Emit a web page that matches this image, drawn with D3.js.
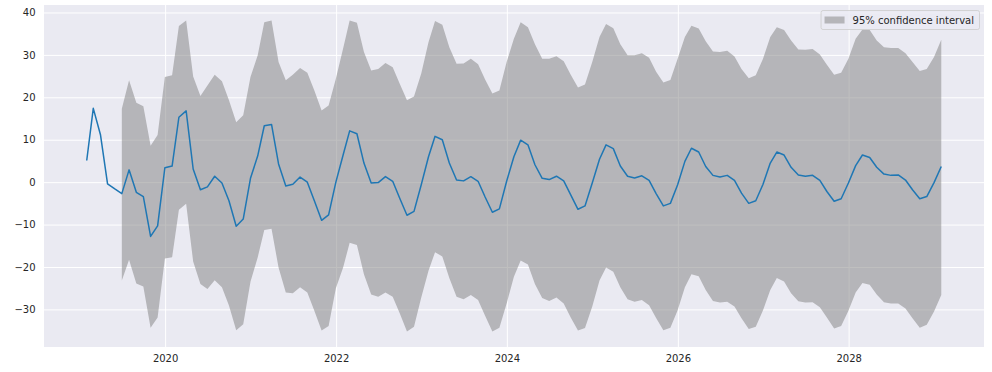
<!DOCTYPE html>
<html>
<head>
<meta charset="utf-8">
<script src="https://cdn.jsdelivr.net/npm/d3@7"></script>
<style>
  body { margin: 0; background: #fff; }
  svg { display: block; font-family: "DejaVu Sans", sans-serif; }
</style>
</head>
<body>
<svg id="chart"></svg>
<script>
const width = 992;
const height = 372;
const margin = {top: 5, right: 8, bottom: 25, left: 44};

// monthly series, dates are month ends
const firstMonth = [2019, 0];     // Jan 2019
const ciFirstMonth = [2019, 5];   // Jun 2019

const forecast = [
  5.1, 17.4, 11.1, -0.4, -1.6, -2.7, 2.9, -2.4, -3.4, -12.8, -10.3, 3.4,
  3.8, 15.3, 16.8, 3.1, -1.8, -1.1, 1.4, -0.2, -4.4, -10.4, -8.7, 0.9,
  6.2, 13.3, 13.6, 4.3, -0.9, -0.5, 1.2, 0.0, -4.4, -9.0, -7.7, 0.0,
  6.4, 12.1, 11.4, 4.5, -0.2, -0.1, 1.3, 0.2, -3.8, -7.8, -6.9, -0.6,
  6.0, 10.8, 10.0, 4.5, 0.5, 0.3, 1.3, 0.2, -3.5, -7.1, -6.3, 0.2,
  6.0, 9.9, 8.8, 4.1, 0.9, 0.6, 1.4, 0.3, -3.0, -6.4, -5.6, -0.2,
  5.4, 8.8, 7.9, 3.8, 1.4, 1.0, 1.5, 0.4, -2.7, -5.6, -5.0, -0.6,
  4.9, 8.0, 7.1, 3.7, 1.6, 1.2, 1.6, 0.4, -2.6, -5.0, -4.4, -0.5,
  4.5, 7.1, 6.4, 3.5, 1.7, 1.4, 1.6, 0.4, -2.2, -4.5, -3.9, -0.2,
  3.9, 6.4, 5.8, 3.5, 1.9, 1.6, 1.7, 0.5, -1.8, -3.9, -3.4, -0.1,
  3.7
];

const upper = [
  17.3, 24.0, 18.7, 17.9, 8.6, 11.1, 24.8,
  25.2, 36.8, 38.1, 24.9, 20.3, 22.8, 25.3, 23.8, 19.3, 14.1, 15.8, 24.8,
  29.9, 37.7, 38.1, 28.3, 24.0, 25.3, 26.9, 25.8, 21.6, 16.9, 18.1, 24.4,
  31.5, 38.1, 37.6, 30.7, 26.3, 26.7, 28.1, 27.1, 23.2, 19.3, 20.2, 25.6,
  33.0, 38.0, 37.1, 31.8, 27.9, 28.0, 29.1, 27.8, 24.2, 20.9, 21.6, 28.3,
  33.8, 37.7, 36.5, 32.5, 29.1, 29.1, 29.7, 28.5, 25.3, 22.3, 23.0, 28.3,
  34.2, 37.3, 36.3, 32.5, 29.9, 29.9, 30.4, 29.3, 26.0, 23.5, 24.1, 29.1,
  34.2, 36.9, 36.2, 33.2, 30.8, 30.7, 31.0, 29.6, 26.7, 24.5, 25.2, 29.1,
  34.2, 36.5, 35.9, 33.4, 31.3, 31.2, 31.4, 30.1, 27.7, 25.3, 25.8, 29.1,
  33.8, 36.0, 35.9, 33.4, 31.8, 31.6, 31.6, 30.4, 28.3, 26.2, 26.7, 29.5,
  33.6
];

const lower = [
  -23.2, -18.3, -23.9, -24.6, -34.3, -31.9, -18.0,
  -17.7, -6.5, -5.1, -18.7, -24.0, -25.2, -23.1, -24.8, -29.1, -34.9, -33.5, -23.5,
  -17.7, -11.3, -11.0, -20.1, -26.0, -26.2, -24.8, -26.0, -30.3, -35.0, -33.9, -25.0,
  -20.1, -14.3, -14.8, -21.7, -26.5, -27.0, -26.0, -27.0, -30.9, -35.2, -34.1, -27.2,
  -20.9, -16.5, -17.5, -22.6, -27.0, -27.6, -26.6, -27.8, -31.5, -35.2, -34.3, -28.6,
  -22.3, -18.5, -19.4, -24.0, -27.3, -28.0, -27.2, -28.6, -31.9, -35.0, -34.4, -29.3,
  -23.2, -20.1, -21.1, -24.8, -27.6, -28.2, -27.8, -29.0, -32.0, -34.9, -34.3, -30.2,
  -24.8, -21.7, -22.2, -25.4, -28.0, -28.4, -28.2, -29.3, -32.1, -34.6, -34.1, -30.2,
  -25.4, -22.6, -23.4, -26.2, -28.1, -28.4, -28.3, -29.5, -31.9, -34.5, -33.9, -30.3,
  -26.0, -23.8, -24.2, -26.5, -28.3, -28.6, -28.6, -29.8, -32.1, -34.3, -33.6, -30.5,
  -26.6
];

const yTicks = [-30, -20, -10, 0, 10, 20, 30, 40];
const xTickYears = [2020, 2022, 2024, 2026, 2028];
const legendLabel = "95% confidence interval";

// month-end date for the i-th month after a start month
function monthEnd(start, i) {
  const d = new Date(Date.UTC(start[0], start[1], 1));
  return d3.utcDay.offset(d3.utcMonth.offset(d, i + 1), -1);
}

const line = forecast.map((v, i) => ({date: monthEnd(firstMonth, i), value: v}));
const band = upper.map((v, i) => ({date: monthEnd(ciFirstMonth, i), hi: v, lo: lower[i]}));

const svg = d3.select("#chart")
  .attr("width", width)
  .attr("height", height);

const x0 = line[0].date, x1 = line[line.length - 1].date;
const xPad = (x1 - x0) * 0.05;
const xScale = d3.scaleUtc()
  .domain([new Date(+x0 - xPad), new Date(+x1 + xPad)])
  .range([margin.left, width - margin.right]);

const yMin = d3.min(lower), yMax = d3.max(upper);
const yPad = (yMax - yMin) * 0.05;
const yScale = d3.scaleLinear()
  .domain([yMin - yPad, yMax + yPad])
  .range([height - margin.bottom, margin.top]);

const plotW = width - margin.left - margin.right;
const plotH = height - margin.top - margin.bottom;

svg.append("rect")
  .attr("x", margin.left)
  .attr("y", margin.top)
  .attr("width", plotW)
  .attr("height", plotH)
  .attr("fill", "#eaeaf2");

// grid + tick labels
var yAxis = svg.append("g")
  .attr("transform", `translate(${margin.left},0)`)
  .call(d3.axisLeft(yScale)
    .tickValues(yTicks)
    .tickSize(-plotW)
    .tickPadding(8.5)
    .tickFormat(d => d < 0 ? "\u2212" + Math.abs(d) : d));

var xAxis = svg.append("g")
  .attr("transform", `translate(0,${height - margin.bottom})`)
  .call(d3.axisBottom(xScale)
    .tickValues(xTickYears.map(y => new Date(Date.UTC(y, 0, 1))))
    .tickSize(-plotH)
    .tickPadding(8)
    .tickFormat(d3.utcFormat("%Y")));

[yAxis, xAxis].forEach(g => {
  g.select(".domain").remove();
  g.selectAll(".tick line").attr("stroke", "#fff").attr("stroke-width", 1);
  g.selectAll(".tick text")
    .attr("fill", "#262626")
    .attr("font-size", 10)
    .attr("font-family", "DejaVu Sans, sans-serif");
});

// confidence band
var area = d3.area()
  .x(d => xScale(d.date))
  .y0(d => yScale(d.lo))
  .y1(d => yScale(d.hi));

svg.append("path")
  .datum(band)
  .attr("d", area)
  .attr("fill", "gray")
  .attr("fill-opacity", 0.5);

// forecast line
var lineGen = d3.line()
  .x(d => xScale(d.date))
  .y(d => yScale(d.value));

svg.append("path")
  .datum(line)
  .attr("d", lineGen)
  .attr("fill", "none")
  .attr("stroke", "#1f77b4")
  .attr("stroke-width", 1.5)
  .attr("stroke-linejoin", "round");

// legend, upper right
var legend = svg.append("g");
var legendBox = legend.append("rect")
  .attr("rx", 2)
  .attr("fill", "#eaeaf2")
  .attr("fill-opacity", 0.8)
  .attr("stroke", "#cccccc")
  .attr("stroke-opacity", 0.8);
var legendSwatch = legend.append("rect")
  .attr("width", 20)
  .attr("height", 7)
  .attr("fill", "gray")
  .attr("fill-opacity", 0.5);
var legendText = legend.append("text")
  .text(legendLabel)
  .attr("font-size", 10)
  .attr("fill", "#262626")
  .attr("dy", "0.35em");

const textW = legendText.node().getComputedTextLength();
const boxW = 4 + 20 + 8 + textW + 5;
const boxH = 19;
const boxX = width - margin.right - 5 - boxW;
const boxY = margin.top + 5;
legendBox.attr("x", boxX + 0.5).attr("y", boxY + 0.5).attr("width", boxW).attr("height", boxH);
legendSwatch.attr("x", boxX + 4).attr("y", boxY + boxH / 2 - 3.5 + 0.5);
legendText.attr("x", boxX + 4 + 20 + 8).attr("y", boxY + boxH / 2 + 0.5);
</script>
</body>
</html>
